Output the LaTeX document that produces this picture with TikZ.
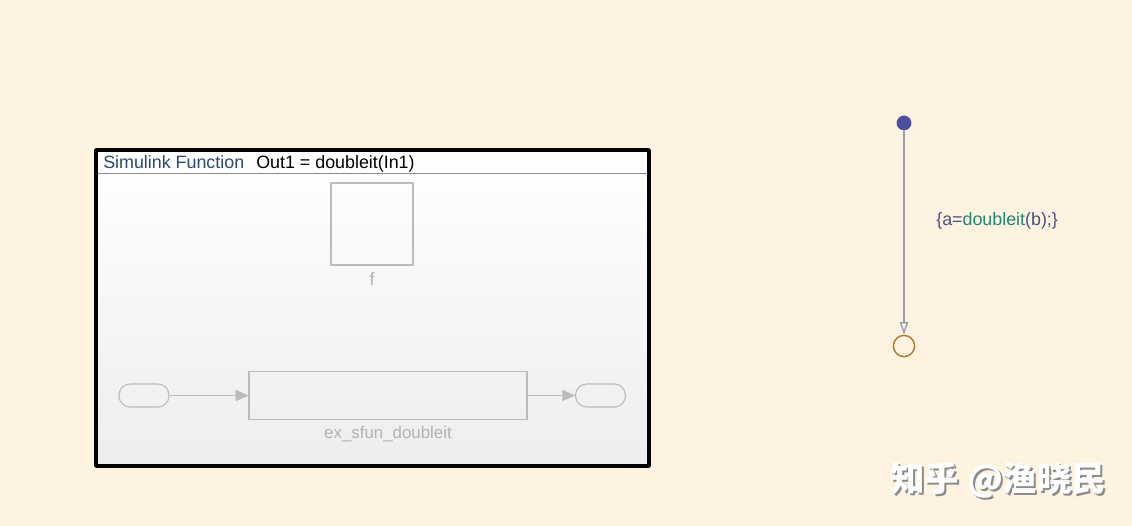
\documentclass[tikz,border=0pt]{standalone}
\usepackage{fontspec}
\setmainfont{Liberation Sans}
\newfontfamily\cjk{Noto Sans CJK SC}
\usetikzlibrary{arrows.meta}
\definecolor{bgcream}{HTML}{FEF3E0}
\definecolor{titleblue}{HTML}{2B4A6E}
\definecolor{blkgray}{HTML}{BBBBBB}
\definecolor{lblgray}{HTML}{B2B2B2}
\definecolor{dotblue}{HTML}{4A509C}
\definecolor{juncbrown}{HTML}{B4782C}
\definecolor{trgray}{HTML}{9A9AB2}
\definecolor{slate}{HTML}{4D4F82}
\definecolor{codeteal}{HTML}{1E8870}

\begin{document}
\begin{tikzpicture}[line cap=round,line join=round,>={Triangle[length=9pt,width=8pt]},x=0.025cm,y=-0.025cm,font=\fontsize{12.7}{15}\selectfont,
	blk/.style={draw=blkgray,line width=0.8pt,inner sep=0},
	port/.style={blk,minimum width=1.25cm,minimum height=0.575cm,rounded corners=0.28cm},
	sig/.style={->,blkgray,line width=0.8pt}]
		\useasboundingbox (0,0) rectangle (1132,526);
		\fill[bgcream] (0,0) rectangle (1132,526);
		% function box
		\fill[black!15] (99,153) rectangle (651,468);
		\shade[top color=white,bottom color=black!7] (96,150) rectangle (649,466);
		\draw[black!45] (97,173) -- (648,173);
		\draw[line width=2.6pt] (96,150) rectangle (649,466);
		\node[anchor=base west,inner sep=0,text=titleblue] (fntitle) at (103,168) {Simulink Function};
		\node[anchor=base west,inner sep=0] (fnsig) at (256,168) {Out1 = doubleit(In1)};
		\node[blk,minimum width=2.05cm,minimum height=2.05cm] (fbox) at (372,224) {};
		\node[anchor=base,inner sep=0,text=lblgray] (flbl) at (372,285) {f};
		\node[port] (inport) at (144,395.5) {};
		\node[blk,minimum width=6.95cm,minimum height=1.2cm] (sfun) at (388,395.5) {};
		\node[port] (outport) at (600.5,395.5) {};
		\node[anchor=base,inner sep=0,text=lblgray,font=\fontsize{12}{14}\selectfont] (sfunlbl) at (388,438) {ex\_sfun\_doubleit};
		\draw[sig] (inport) -- (sfun);
		\draw[sig] (sfun) -- (outport);
		% chart
		\node[circle,fill=dotblue,minimum size=0.37cm,inner sep=0] (dflt) at (904,123) {};
		\node[circle,draw=juncbrown,line width=1pt,minimum size=0.53cm,inner sep=0] (junc) at (904,346) {};
		\draw[trgray,line width=1pt,-{Triangle[open,length=9pt,width=6pt]}] (dflt) -- (junc);
		\node[anchor=base west,inner sep=0] (trlbl) at (936,225) {\textcolor{slate}{\{a=}\textcolor{codeteal}{doubleit}\textcolor{slate}{(b);\}}};
		% watermark
		\node[anchor=base west,inner sep=0,text=black!45,font=\cjk\bfseries\fontsize{24.5}{28}\selectfont] (wshadow) at (892,493) {知乎 @渔晓民};
		\node[anchor=base west,inner sep=0,text=white,font=\cjk\bfseries\fontsize{24.5}{28}\selectfont] (wmark) at (890,491) {知乎 @渔晓民};
\end{tikzpicture}
\end{document}
